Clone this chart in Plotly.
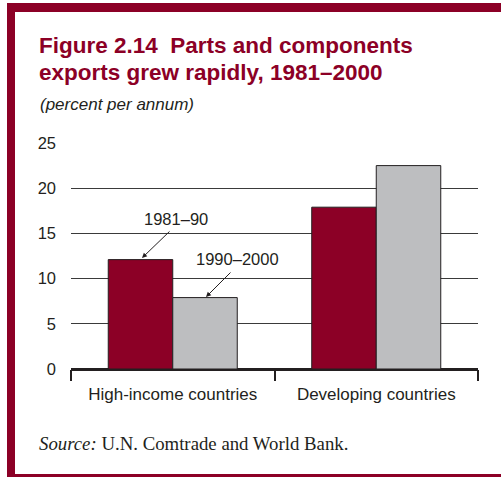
import plotly.graph_objects as go

categories = ['High-income countries', 'Developing countries']
growth_1981_90 = [12.1, 17.9]
growth_1990_2000 = [7.9, 22.5]
y_ticks = [0, 5, 10, 15, 20, 25]

MAROON = '#8c0026'
GRAY = '#bdbec0'
INK = '#231f20'

W, H = 501, 477
L, R, T, B = 71, 23, 143, 108
pw, ph = W - L - R, H - T - B


def px(x):
    return (x - L) / pw


def py(y):
    return (H - B - y) / ph


fig = go.Figure()
fig.add_trace(go.Bar(x=categories, y=growth_1981_90, name='1981–90',
                     marker=dict(color=MAROON, line=dict(color=INK, width=1))))
fig.add_trace(go.Bar(x=categories, y=growth_1990_2000, name='1990–2000',
                     marker=dict(color=GRAY, line=dict(color=INK, width=1))))

# frame around the figure
shapes = [
    dict(type='rect', xref='paper', yref='paper', x0=px(7), x1=px(15), y0=py(477), y1=py(3),
         fillcolor=MAROON, line_width=0, layer='below'),
    dict(type='rect', xref='paper', yref='paper', x0=px(7), x1=px(501), y0=py(12), y1=py(3),
         fillcolor=MAROON, line_width=0, layer='below'),
    dict(type='rect', xref='paper', yref='paper', x0=px(7), x1=px(501), y0=py(477), y1=py(474),
         fillcolor=MAROON, line_width=0, layer='below'),
]

annotations = [
    dict(text='<b>Figure 2.14  Parts and components</b>', xref='paper', yref='paper',
         x=px(37), y=py(45), xanchor='left', yanchor='middle', showarrow=False,
         font=dict(size=22.5, color=MAROON, family='Liberation Sans, Arial')),
    dict(text='<b>exports grew rapidly, 1981–2000</b>', xref='paper', yref='paper',
         x=px(37), y=py(73), xanchor='left', yanchor='middle', showarrow=False,
         font=dict(size=22.5, color=MAROON, family='Liberation Sans, Arial')),
    dict(text='<i>(percent per annum)</i>', xref='paper', yref='paper',
         x=px(38), y=py(104), xanchor='left', yanchor='middle', showarrow=False,
         font=dict(size=17, color=INK, family='Liberation Sans, Arial')),
    dict(text='<i>Source:</i> U.N. Comtrade and World Bank.', xref='paper', yref='paper',
         x=px(37), y=py(443), xanchor='left', yanchor='middle', showarrow=False,
         font=dict(size=18.8, color=INK, family='Liberation Serif, Times New Roman')),
    # labels and arrows
    dict(text='1981–90', xref='paper', yref='paper', x=px(176), y=py(219),
         xanchor='center', yanchor='middle', showarrow=False,
         font=dict(size=16.5, color=INK)),
    dict(text='', xref='paper', yref='paper', x=px(142), y=py(258), ax=29, ay=-28,
         showarrow=True, arrowhead=2, arrowsize=1, arrowwidth=1, arrowcolor=INK),
    dict(text='1990–2000', xref='paper', yref='paper', x=px(237), y=py(259),
         xanchor='center', yanchor='middle', showarrow=False,
         font=dict(size=16.5, color=INK)),
    dict(text='', xref='paper', yref='paper', x=px(206), y=py(297), ax=26, ay=-26,
         showarrow=True, arrowhead=2, arrowsize=1, arrowwidth=1, arrowcolor=INK),
]

fig.update_layout(
    width=W, height=H,
    margin=dict(l=L, r=R, t=T, b=B),
    paper_bgcolor='white', plot_bgcolor='white',
    font=dict(family='Liberation Sans, Arial', size=16, color=INK),
    barmode='group', bargap=0.366, bargroupgap=0,
    showlegend=False,
    shapes=shapes, annotations=annotations,
)
fig.update_xaxes(type='category', showgrid=False, showline=False,
                 ticks='outside', tickson='boundaries', ticklen=11, tickwidth=1.5,
                 tickcolor=INK, ticklabelstandoff=13, tickfont=dict(size=17, color=INK))
fig.update_yaxes(range=[0, 25], tickvals=y_ticks, showgrid=True, gridcolor='#3a3a3a',
                 gridwidth=1, zeroline=True, zerolinecolor=INK, zerolinewidth=2.5,
                 showline=False, ticks='', ticklabelstandoff=14,
                 tickfont=dict(size=16.5, color=INK))

fig.write_html('out.html', config={'displayModeBar': False},
               post_script="document.body.style.margin='0';")
